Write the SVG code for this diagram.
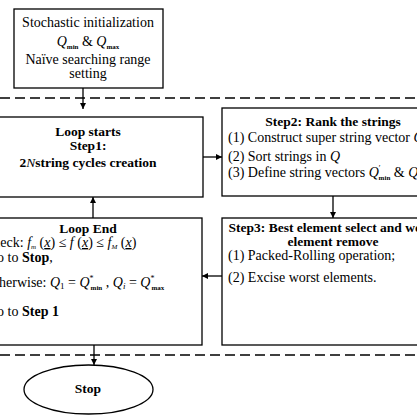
<svg xmlns="http://www.w3.org/2000/svg" width="417" height="417" viewBox="0 0 417 417" font-family="'Liberation Serif', 'DejaVu Serif', serif">
<style>
  text { font-family: 'Liberation Serif', 'Times New Roman', 'DejaVu Serif', serif; font-size: 14px; fill: #000; }
  .b { font-weight: bold; font-size: 13.5px; }
  .i { font-style: italic; }
  .s { font-size: 7px; font-weight: bold; }
  .box { fill: #fff; stroke: #000; stroke-width: 1.3; }
  .ln { stroke: #000; stroke-width: 1.3; fill: none; }
  .dash { stroke: #000; stroke-width: 1.6; stroke-dasharray: 10 5; fill: none; }
</style>
<defs>
  <marker id="ah" viewBox="0 0 10 10" refX="10" refY="5" markerWidth="6" markerHeight="6" markerUnits="userSpaceOnUse" orient="auto">
    <path d="M0,0 L10,5 L0,10 z" fill="#000"/>
  </marker>
</defs>
<rect width="417" height="417" fill="#fff"/>

<g id="dashed">
  <line class="dash" x1="0" y1="98" x2="417" y2="98"/>
  <line class="dash" x1="0" y1="355" x2="417" y2="355"/>
</g>

<g id="connectors">
  <line class="ln" x1="83" y1="88" x2="83" y2="109" marker-end="url(#ah)"/>
  <line class="ln" x1="203" y1="157" x2="222" y2="157" marker-end="url(#ah)"/>
  <line class="ln" x1="333" y1="196" x2="333" y2="218" marker-end="url(#ah)"/>
  <line class="ln" x1="222" y1="276" x2="202" y2="276" marker-end="url(#ah)"/>
  <line class="ln" x1="93" y1="218" x2="93" y2="197" marker-end="url(#ah)"/>
  <line class="ln" x1="94" y1="345" x2="94" y2="365" marker-end="url(#ah)"/>
</g>

<g id="init">
  <rect class="box" x="14" y="9" width="149" height="79"/>
  <text x="88" y="27" text-anchor="middle">Stochastic initialization</text>
  <text x="88" y="46" text-anchor="middle"><tspan class="i">Q</tspan><tspan class="s" dy="3">min</tspan><tspan dy="-3"> &amp; </tspan><tspan class="i">Q</tspan><tspan class="s" dy="3">max</tspan></text>
  <text x="88" y="64" text-anchor="middle">Naïve searching range</text>
  <text x="88" y="78" text-anchor="middle">setting</text>
</g>

<g id="step1">
  <rect class="box" x="-27" y="117" width="230" height="80"/>
  <text class="b" x="88" y="136" text-anchor="middle">Loop starts</text>
  <text class="b" x="88" y="150" text-anchor="middle">Step1:</text>
  <text class="b" x="88" y="167" text-anchor="middle">2<tspan class="i" font-weight="normal">N</tspan>string cycles creation</text>
</g>

<g id="step2">
  <rect class="box" x="222" y="108" width="222" height="88"/>
  <text class="b" x="333" y="126" text-anchor="middle">Step2: Rank the strings</text>
  <text x="228" y="142">(1) Construct super string vector <tspan class="i">Q</tspan><tspan font-size="8" dy="-6">′</tspan></text>
  <text x="228" y="161">(2) Sort strings in <tspan class="i">Q</tspan></text>
  <text x="228" y="177">(3) Define string vectors <tspan class="i">Q</tspan><tspan font-size="8" dy="-6">′</tspan><tspan class="s" dx="-2" dy="9">min</tspan><tspan dy="-3"> &amp; </tspan><tspan class="i">Q</tspan><tspan font-size="8" dy="-6">′</tspan><tspan class="s" dx="-2" dy="9">max</tspan></text>
</g>

<g id="step3">
  <rect class="box" x="222" y="218" width="222" height="127"/>
  <text class="b" x="333" y="232" text-anchor="middle">Step3: Best element select and worst</text>
  <text class="b" x="333" y="246" text-anchor="middle">element remove</text>
  <text x="228" y="260">(1)  Packed-Rolling operation;</text>
  <text x="228" y="282">(2)   Excise worst elements.</text>
</g>

<g id="loopend">
  <rect class="box" x="-27" y="218" width="229" height="127"/>
  <text class="b" x="88" y="233" text-anchor="middle">Loop End</text>
  <text x="-16" y="247">Check: <tspan class="i">f</tspan><tspan font-size="7" class="i" dy="2">m</tspan><tspan dy="-2"> (</tspan><tspan class="i" text-decoration="underline">x</tspan>) ≤ <tspan class="i">f</tspan> (<tspan class="i" text-decoration="underline">x</tspan>) ≤ <tspan class="i">f</tspan><tspan font-size="7" class="i" dy="2">M</tspan><tspan dy="-2"> (</tspan><tspan class="i" text-decoration="underline">x</tspan>)</text>
  <text x="-13" y="262">Go to <tspan font-weight="bold">Stop</tspan>,</text>
  <text x="-15" y="287">Otherwise: <tspan class="i">Q</tspan><tspan font-size="9" dy="2">1</tspan><tspan dy="-2"> = </tspan><tspan class="i">Q</tspan><tspan font-size="8" dy="-6">*</tspan><tspan class="s" dx="-3" dy="9">min</tspan><tspan dy="-3"> , </tspan><tspan class="i">Q</tspan><tspan font-size="9" class="i" dy="2">i</tspan><tspan dy="-2"> = </tspan><tspan class="i">Q</tspan><tspan font-size="8" dy="-6">*</tspan><tspan class="s" dx="-3" dy="9">max</tspan></text>
  <text x="-13" y="316">Go to <tspan font-weight="bold">Step 1</tspan></text>
</g>

<g id="stop">
  <ellipse class="box" cx="88.5" cy="389.5" rx="64.5" ry="24.5"/>
  <text class="b" x="88" y="393" text-anchor="middle">Stop</text>
</g>
</svg>
